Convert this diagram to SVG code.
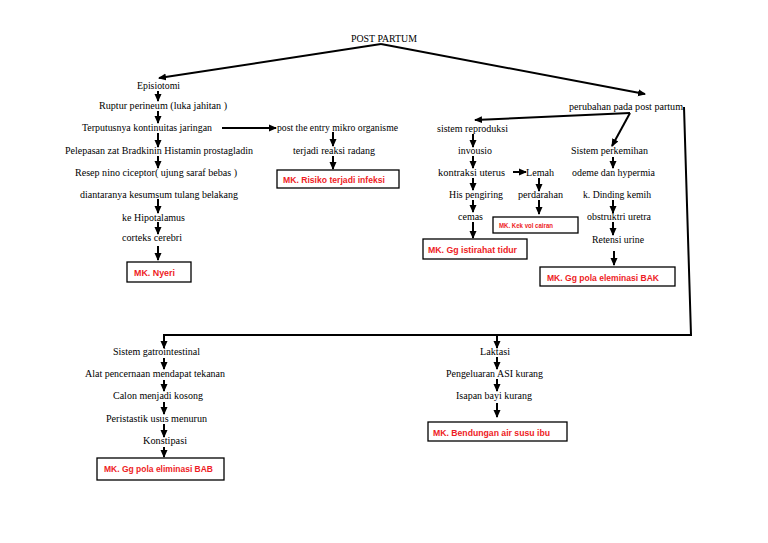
<svg xmlns="http://www.w3.org/2000/svg" width="768" height="543" viewBox="0 0 768 543">
<defs>
<marker id="ah" markerUnits="userSpaceOnUse" markerWidth="8" markerHeight="8" viewBox="0 0 8 8" refX="7" refY="4" orient="auto">
<path d="M0,0.5 L8,4 L0,7.5 Z" fill="#000"/>
</marker>
<style>
.t{font-family:"Liberation Serif","Times New Roman",serif;font-size:10.5px;fill:#000}
.r{font-family:"Liberation Sans",Arial,sans-serif;font-size:9px;font-weight:bold;fill:#ee1c25}
.b{fill:#fff;stroke:#000;stroke-width:1.3}
.c path{fill:none;stroke:#000;stroke-width:2}
.c .a{marker-end:url(#ah)}
</style>
</defs>
<rect width="768" height="543" fill="#fff"/>
<g class="c" id="connectors">
<path class="a" d="M381,44 L159,78"/>
<path class="a" d="M381,44 L645,94"/>
<path class="a" d="M158,91 L158,101"/>
<path class="a" d="M158,111 L158,123"/>
<path class="a" d="M158,133 L158,147"/>
<path class="a" d="M158,156 L158,168"/>
<path class="a" d="M158,199 L158,213"/>
<path class="a" d="M158,222 L158,234"/>
<path class="a" d="M158,246 L158,260"/>
<path class="a" d="M222,128 L276,128"/>
<path class="a" d="M333,132 L333,146"/>
<path class="a" d="M333,156 L333,169"/>
<path class="a" d="M630,113 L475,120"/>
<path class="a" d="M630,113 L612,146"/>
<path class="a" d="M473,134 L473,147"/>
<path class="a" d="M473,156 L473,168"/>
<path class="a" d="M473,178 L473,190"/>
<path class="a" d="M473,200 L473,212"/>
<path class="a" d="M473,222 L473,238"/>
<path class="a" d="M513,172 L526,172"/>
<path class="a" d="M539,178 L539,191"/>
<path class="a" d="M539,200 L539,214"/>
<path class="a" d="M613,157 L613,168"/>
<path class="a" d="M613,200 L613,213"/>
<path class="a" d="M613,222 L613,235"/>
<path class="a" d="M614,251 L614,265"/>
<path d="M684,107 L691,335 L163,335"/>
<path class="a" d="M164,335 L164,348"/>
<path class="a" d="M497,335 L497,348"/>
<path class="a" d="M164,358 L164,369"/>
<path class="a" d="M164,380 L164,391"/>
<path class="a" d="M164,402 L164,414"/>
<path class="a" d="M164,424 L164,437"/>
<path class="a" d="M164,447 L164,457"/>
<path class="a" d="M497,357 L497,369"/>
<path class="a" d="M497,379 L497,391"/>
<path class="a" d="M497,403 L497,417"/>
</g>
<g id="post-partum"><text class="t" x="351" y="42" textLength="66" lengthAdjust="spacingAndGlyphs">POST PARTUM</text></g>
<g id="episiotomi"><text class="t" x="137" y="89" textLength="43" lengthAdjust="spacingAndGlyphs">Episiotomi</text></g>
<g id="ruptur"><text class="t" x="99" y="109" textLength="128" lengthAdjust="spacingAndGlyphs">Ruptur perineum (luka jahitan )</text></g>
<g id="terputusnya"><text class="t" x="82" y="131" textLength="130" lengthAdjust="spacingAndGlyphs">Terputusnya kontinuitas jaringan</text></g>
<g id="post-entry"><text class="t" x="277" y="131" textLength="121" lengthAdjust="spacingAndGlyphs">post the entry mikro organisme</text></g>
<g id="pelepasan"><text class="t" x="65" y="154" textLength="188" lengthAdjust="spacingAndGlyphs">Pelepasan zat Bradkinin Histamin prostagladin</text></g>
<g id="reaksi-radang"><text class="t" x="293" y="154" textLength="82" lengthAdjust="spacingAndGlyphs">terjadi reaksi radang</text></g>
<g id="resep"><text class="t" x="75" y="176" textLength="162" lengthAdjust="spacingAndGlyphs">Resep nino ciceptor( ujung saraf bebas )</text></g>
<g id="diantaranya"><text class="t" x="80" y="198" textLength="158" lengthAdjust="spacingAndGlyphs">diantaranya kesumsum tulang belakang</text></g>
<g id="hipotalamus"><text class="t" x="122" y="221" textLength="63" lengthAdjust="spacingAndGlyphs">ke Hipotalamus</text></g>
<g id="corteks"><text class="t" x="122" y="241" textLength="60" lengthAdjust="spacingAndGlyphs">corteks cerebri</text></g>
<g id="mk-nyeri"><rect class="b" x="127" y="262" width="64" height="20"/><text class="r" x="134" y="276" textLength="41" lengthAdjust="spacingAndGlyphs">MK. Nyeri</text></g>
<g id="mk-infeksi"><rect class="b" x="277" y="170" width="122" height="18"/><text class="r" x="283" y="183" textLength="102" lengthAdjust="spacingAndGlyphs">MK. Risiko terjadi infeksi</text></g>
<g id="perubahan"><text class="t" x="569" y="110" textLength="114" lengthAdjust="spacingAndGlyphs">perubahan pada post partum</text></g>
<g id="sistem-reproduksi"><text class="t" x="437" y="132" textLength="71" lengthAdjust="spacingAndGlyphs">sistem reproduksi</text></g>
<g id="invousio"><text class="t" x="458" y="154" textLength="34" lengthAdjust="spacingAndGlyphs">invousio</text></g>
<g id="sistem-perkemihan"><text class="t" x="571" y="154" textLength="77" lengthAdjust="spacingAndGlyphs">Sistem perkemihan</text></g>
<g id="kontraksi"><text class="t" x="438" y="176" textLength="67" lengthAdjust="spacingAndGlyphs">kontraksi uterus</text></g>
<g id="lemah"><text class="t" x="526" y="176" textLength="28" lengthAdjust="spacingAndGlyphs">Lemah</text></g>
<g id="odeme"><text class="t" x="572" y="176" textLength="83" lengthAdjust="spacingAndGlyphs">odeme  dan hypermia</text></g>
<g id="his"><text class="t" x="449" y="198" textLength="54" lengthAdjust="spacingAndGlyphs">His pengiring</text></g>
<g id="perdarahan"><text class="t" x="518" y="198" textLength="45" lengthAdjust="spacingAndGlyphs">perdarahan</text></g>
<g id="dinding-kemih"><text class="t" x="583" y="198" textLength="68" lengthAdjust="spacingAndGlyphs">k. Dinding kemih</text></g>
<g id="cemas"><text class="t" x="458" y="220" textLength="25" lengthAdjust="spacingAndGlyphs">cemas</text></g>
<g id="obstruktri"><text class="t" x="587" y="220" textLength="64" lengthAdjust="spacingAndGlyphs">obstruktri uretra</text></g>
<g id="retensi"><text class="t" x="592" y="243" textLength="52" lengthAdjust="spacingAndGlyphs">Retensi urine</text></g>
<g id="mk-cairan"><rect class="b" x="493" y="217" width="85" height="16"/><text class="r" x="499" y="228" textLength="54" lengthAdjust="spacingAndGlyphs" style="font-size:7px">MK. Kek vol cairan</text></g>
<g id="mk-tidur"><rect class="b" x="423" y="239" width="104" height="20"/><text class="r" x="428" y="253" textLength="89" lengthAdjust="spacingAndGlyphs">MK. Gg istirahat tidur</text></g>
<g id="mk-bak"><rect class="b" x="540" y="267" width="135" height="19"/><text class="r" x="547" y="281" textLength="112" lengthAdjust="spacingAndGlyphs">MK. Gg pola eleminasi BAK</text></g>
<g id="gastro"><text class="t" x="113" y="355" textLength="87" lengthAdjust="spacingAndGlyphs">Sistem gatrointestinal</text></g>
<g id="alat"><text class="t" x="85" y="377" textLength="140" lengthAdjust="spacingAndGlyphs">Alat pencernaan mendapat tekanan</text></g>
<g id="calon"><text class="t" x="113" y="399" textLength="90" lengthAdjust="spacingAndGlyphs">Calon menjadi kosong</text></g>
<g id="peristastik"><text class="t" x="106" y="422" textLength="101" lengthAdjust="spacingAndGlyphs">Peristastik usus menurun</text></g>
<g id="konstipasi"><text class="t" x="143" y="444" textLength="44" lengthAdjust="spacingAndGlyphs">Konstipasi</text></g>
<g id="mk-bab"><rect class="b" x="97" y="458" width="127" height="22"/><text class="r" x="104" y="472" textLength="109" lengthAdjust="spacingAndGlyphs">MK. Gg pola eliminasi BAB</text></g>
<g id="laktasi"><text class="t" x="480" y="355" textLength="30" lengthAdjust="spacingAndGlyphs">Laktasi</text></g>
<g id="pengeluaran"><text class="t" x="446" y="377" textLength="97" lengthAdjust="spacingAndGlyphs">Pengeluaran ASI kurang</text></g>
<g id="isapan"><text class="t" x="456" y="399" textLength="76" lengthAdjust="spacingAndGlyphs">Isapan bayi kurang</text></g>
<g id="mk-asi"><rect class="b" x="428" y="422" width="139" height="19"/><text class="r" x="433" y="436" textLength="117" lengthAdjust="spacingAndGlyphs">MK. Bendungan air susu ibu</text></g>
</svg>
